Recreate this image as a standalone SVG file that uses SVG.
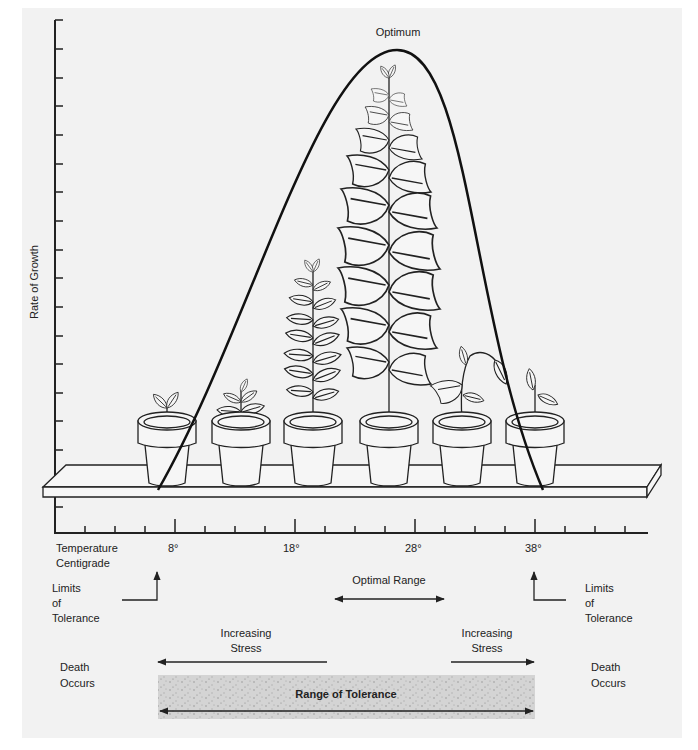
<svg xmlns="http://www.w3.org/2000/svg" width="698" height="750" viewBox="0 0 698 750">
<style>
.t{font-family:"Liberation Sans",Arial,sans-serif;font-size:11px;fill:#222}
.ax{stroke:#222;stroke-width:2;fill:none}
.tk{stroke:#222;stroke-width:1.5}
.ln{stroke:#222;stroke-width:1.3;fill:none}
.pot{stroke:#222;stroke-width:1.3;fill:#f6f6f6}
.lf{stroke:#222;stroke-width:1;fill:#f6f6f6}
.ar{stroke:#222;stroke-width:1.3;fill:none}
</style>
<defs>
<marker id="ah" viewBox="0 0 10 10" refX="9" refY="5" markerWidth="7" markerHeight="7" orient="auto-start-reverse"><path d="M0,1 L10,5 L0,9 Z" fill="#222"/></marker>
<path id="leaf" d="M0,0 C5,-7 16,-8 24,-2 C17,5 6,5 0,0 Z M2,0 L20,-2"/>
<path id="heart" d="M0,0 C4,-12 18,-14 26,-10 C24,-2 28,8 30,10 C20,12 6,10 0,0 Z M2,0 L24,4"/>
<g id="potg">
<path class="pot" d="M-22,30 L-18,68 C-10,72 10,72 18,68 L22,30 Z"/>
<path class="pot" d="M-29,6 L-29,28 C-15,34 15,34 29,28 L29,6 Z"/>
<ellipse class="pot" cx="0" cy="6" rx="29" ry="9"/>
<ellipse class="pot" cx="0" cy="7" rx="23" ry="6"/>
</g>
<pattern id="noise" width="12" height="8" patternUnits="userSpaceOnUse">
<rect width="12" height="8" fill="#d4d4d4"/>
<circle cx="2" cy="2" r="0.8" fill="#999"/><circle cx="8" cy="5" r="0.7" fill="#aaa"/><circle cx="5" cy="7" r="0.6" fill="#888"/><circle cx="10" cy="1" r="0.5" fill="#999"/>
</pattern>
</defs>
<rect width="698" height="750" fill="#fff"/>
<rect x="22" y="8" width="660" height="730" fill="#f2f2f2"/>

<g id="axes">
<path class="ax" d="M55,20 L55,533 L648,533"/>
<path class="tk" d="M55,20h8M55,49h8M55,78h8M55,106h8M55,135h8M55,164h8M55,192h8M55,221h8M55,250h8M55,278h8M55,307h8M55,336h8M55,364h8M55,393h8M55,421h8M55,450h8M55,479h8M55,507h8"/>
<path class="tk" d="M85,533v-7M115,533v-7M145,533v-7M175,533v-14M205,533v-7M235,533v-7M265,533v-7M295,533v-14M325,533v-7M355,533v-7M385,533v-7M415,533v-14M445,533v-7M475,533v-7M505,533v-7M535,533v-14M565,533v-7M595,533v-7M625,533v-7"/>
<text class="t" transform="translate(38,282) rotate(-90)" text-anchor="middle">Rate of Growth</text>
<text class="t" x="56" y="552">Temperature</text>
<text class="t" x="56" y="567">Centigrade</text>
<text class="t" x="168" y="552">8°</text>
<text class="t" x="283" y="552">18°</text>
<text class="t" x="405" y="552">28°</text>
<text class="t" x="525" y="552">38°</text>
</g>

<g id="shelf">
<path class="pot" d="M43,487 L66,465 L661,465 L647,487 Z"/>
<path class="pot" d="M43,487 L647,487 L647,497 L43,497 Z"/>
<path class="pot" d="M647,487 L661,465 L661,475 L647,497 Z"/>
</g>

<g id="plant1">
<path class="ln" d="M167,420 L167,405"/>
<use href="#leaf" class="lf" transform="translate(167,408) rotate(-130) scale(0.8)"/>
<use href="#leaf" class="lf" transform="translate(167,408) rotate(-50) scale(0.8)"/>
<use href="#potg" transform="translate(167,415)"/>
</g>
<g id="plant2">
<path class="ln" d="M241,420 L241,390"/>
<use href="#leaf" class="lf" transform="translate(241,392) rotate(-60) scale(0.6)"/>
<use href="#leaf" class="lf" transform="translate(241,402) rotate(-150) scale(0.8)"/>
<use href="#leaf" class="lf" transform="translate(241,402) rotate(-30) scale(0.8)"/>
<use href="#leaf" class="lf" transform="translate(241,412) rotate(-170) scale(1)"/>
<use href="#leaf" class="lf" transform="translate(241,412) rotate(-10) scale(1)"/>
<use href="#potg" transform="translate(241,415)"/>
</g>
<g id="plant3">
<path class="ln" d="M313,420 L313,268"/>
<use href="#leaf" class="lf" transform="translate(313,272) rotate(-60) scale(0.6)"/>
<use href="#leaf" class="lf" transform="translate(313,272) rotate(-120) scale(0.6)"/>
<use href="#leaf" class="lf" transform="translate(313,285) rotate(-160) scale(0.8)"/>
<use href="#leaf" class="lf" transform="translate(313,290) rotate(-20) scale(0.8)"/>
<use href="#leaf" class="lf" transform="translate(313,302) rotate(-165) scale(1)"/>
<use href="#leaf" class="lf" transform="translate(313,308) rotate(-15) scale(1)"/>
<use href="#leaf" class="lf" transform="translate(313,320) rotate(-170) scale(1.1)"/>
<use href="#leaf" class="lf" transform="translate(313,326) rotate(-10) scale(1.1)"/>
<use href="#leaf" class="lf" transform="translate(313,338) rotate(-165) scale(1.15)"/>
<use href="#leaf" class="lf" transform="translate(313,344) rotate(-15) scale(1.15)"/>
<use href="#leaf" class="lf" transform="translate(313,356) rotate(-170) scale(1.2)"/>
<use href="#leaf" class="lf" transform="translate(313,362) rotate(-10) scale(1.2)"/>
<use href="#leaf" class="lf" transform="translate(313,374) rotate(-165) scale(1.2)"/>
<use href="#leaf" class="lf" transform="translate(313,380) rotate(-15) scale(1.2)"/>
<use href="#leaf" class="lf" transform="translate(313,392) rotate(-170) scale(1.1)"/>
<use href="#leaf" class="lf" transform="translate(313,398) rotate(-10) scale(1.1)"/>
<use href="#potg" transform="translate(313,415)"/>
</g>
<g id="plant4">
<path class="ln" d="M389,420 L389,72"/>
<use href="#leaf" class="lf" transform="translate(389,78) rotate(-60) scale(0.6)"/>
<use href="#leaf" class="lf" transform="translate(389,78) rotate(-120) scale(0.6)"/>
<use href="#heart" class="lf" transform="translate(389,95) rotate(180) scale(0.6)"/>
<use href="#heart" class="lf" transform="translate(389,100) scale(0.6)"/>
<use href="#heart" class="lf" transform="translate(389,115) rotate(180) scale(0.8)"/>
<use href="#heart" class="lf" transform="translate(389,122) scale(0.8)"/>
<use href="#heart" class="lf" transform="translate(389,140) rotate(180) scale(1.1)"/>
<use href="#heart" class="lf" transform="translate(389,148) scale(1.1)"/>
<use href="#heart" class="lf" transform="translate(389,170) rotate(180) scale(1.4)"/>
<use href="#heart" class="lf" transform="translate(389,178) scale(1.4)"/>
<use href="#heart" class="lf" transform="translate(389,205) rotate(180) scale(1.6)"/>
<use href="#heart" class="lf" transform="translate(389,212) scale(1.6)"/>
<use href="#heart" class="lf" transform="translate(389,245) rotate(180) scale(1.7)"/>
<use href="#heart" class="lf" transform="translate(389,252) scale(1.7)"/>
<use href="#heart" class="lf" transform="translate(389,285) rotate(180) scale(1.7)"/>
<use href="#heart" class="lf" transform="translate(389,292) scale(1.7)"/>
<use href="#heart" class="lf" transform="translate(389,325) rotate(180) scale(1.6)"/>
<use href="#heart" class="lf" transform="translate(389,332) scale(1.6)"/>
<use href="#heart" class="lf" transform="translate(389,362) rotate(180) scale(1.4)"/>
<use href="#heart" class="lf" transform="translate(389,370) scale(1.4)"/>
<use href="#potg" transform="translate(389,415)"/>
</g>
<g id="plant5">
<path class="ln" d="M462,420 C460,390 462,370 470,356 C478,350 488,352 495,360"/>
<use href="#leaf" class="lf" transform="translate(466,365) rotate(-100) scale(0.8)"/>
<use href="#heart" class="lf" transform="translate(462,385) rotate(160) scale(1)"/>
<use href="#leaf" class="lf" transform="translate(463,395) rotate(20) scale(0.9)"/>
<use href="#leaf" class="lf" transform="translate(495,360) rotate(70) scale(1.1)"/>
<use href="#potg" transform="translate(462,415)"/>
</g>
<g id="plant6">
<path class="ln" d="M535,420 L535,385"/>
<use href="#leaf" class="lf" transform="translate(533,390) rotate(-95) scale(0.9)"/>
<use href="#leaf" class="lf" transform="translate(538,395) rotate(30) scale(0.9)"/>
<use href="#potg" transform="translate(535,415)"/>
</g>

<g id="curve">
<path d="M158,490 C250,330 320,50 397,50 C470,50 470,320 543,490" fill="none" stroke="#111" stroke-width="2.5"/>
<text class="t" x="398" y="36" text-anchor="middle">Optimum</text>
</g>

<g id="connectors">
<path class="ar" d="M122,600 L157,600 L157,572" marker-end="url(#ah)"/>
<path class="ar" d="M566,600 L534,600 L534,572" marker-end="url(#ah)"/>
<path class="ar" d="M335,599 L444,599" marker-start="url(#ah)" marker-end="url(#ah)"/>
<path class="ar" d="M327,662 L158,662" marker-end="url(#ah)"/>
<path class="ar" d="M451,662 L534,662" marker-end="url(#ah)"/>
</g>

<g id="labels">
<text class="t" x="52" y="592">Limits</text>
<text class="t" x="52" y="607">of</text>
<text class="t" x="52" y="622">Tolerance</text>
<text class="t" x="585" y="592">Limits</text>
<text class="t" x="585" y="607">of</text>
<text class="t" x="585" y="622">Tolerance</text>
<text class="t" x="389" y="584" text-anchor="middle">Optimal Range</text>
<text class="t" x="246" y="637" text-anchor="middle">Increasing</text>
<text class="t" x="246" y="652" text-anchor="middle">Stress</text>
<text class="t" x="487" y="637" text-anchor="middle">Increasing</text>
<text class="t" x="487" y="652" text-anchor="middle">Stress</text>
<text class="t" x="60" y="671">Death</text>
<text class="t" x="60" y="687">Occurs</text>
<text class="t" x="591" y="671">Death</text>
<text class="t" x="591" y="687">Occurs</text>
</g>

<g id="range">
<rect x="158" y="675" width="377" height="44" fill="url(#noise)"/>
<path class="ar" d="M160,711 L533,711" marker-start="url(#ah)" marker-end="url(#ah)"/>
<text class="t" x="346" y="698" text-anchor="middle" font-weight="bold">Range of Tolerance</text>
</g>
</svg>
